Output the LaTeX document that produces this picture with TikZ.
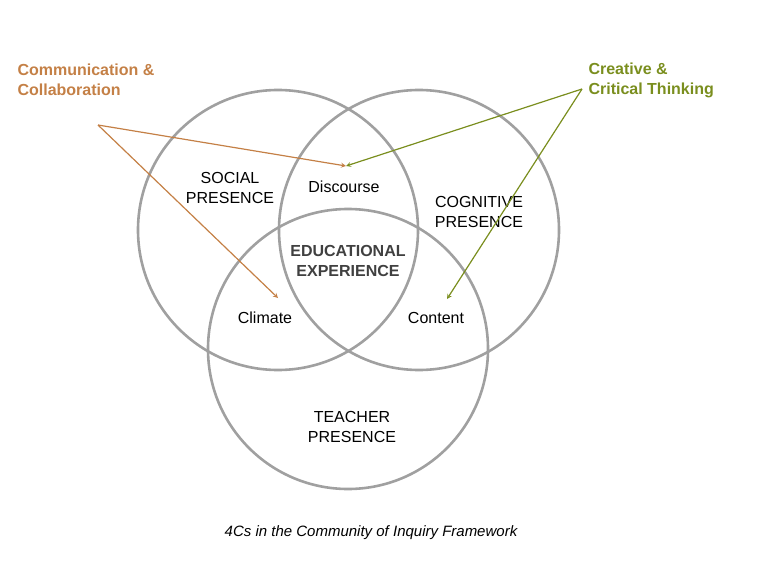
\documentclass[tikz,border=0pt]{standalone}
\usepackage{fontspec}
\setmainfont{Liberation Sans}
\usepackage{tikz}
\definecolor{ring}{RGB}{160,160,160}
\definecolor{commcol}{RGB}{196,128,70}
\definecolor{critcol}{RGB}{122,142,30}

\begin{document}
\begin{tikzpicture}[
  x=1pt,y=-1pt,
  every presence/.style={draw=ring,line width=2.6pt},
  every label/.style={font=\fontsize{16}{20}\selectfont,align=center},
  every skill/.style={font=\fontsize{16}{20}\selectfont\bfseries,align=left,anchor=west},
  comm arrow/.style={draw=commcol,line width=1.2pt,-stealth},
  crit arrow/.style={draw=critcol,line width=1.2pt,-stealth},
]
\useasboundingbox (0,0) rectangle (768,583);
\draw[every presence] (278,230) circle (140);
\draw[every presence] (419,230) circle (140);
\draw[every presence] (348,349) circle (140);

\node[every label] (social) at (230,188) {SOCIAL\\PRESENCE};
\node[every label] (cognitive) at (479,212) {COGNITIVE\\PRESENCE};
\node[every label] (teacher) at (352,427) {TEACHER\\PRESENCE};
\node[every label,font=\fontsize{16}{20}\selectfont\bfseries,text=black!75] (edu) at (348,261) {EDUCATIONAL\\EXPERIENCE};
\node[every label] (discourse) at (344,187) {Discourse};
\node[every label] (climate) at (265,318) {Climate};
\node[every label] (content) at (436,318) {Content};

\node[every skill,text=commcol] (comm) at (14,80) {Communication \&\\Collaboration};
\node[every skill,text=critcol] (crit) at (585,80) {Creative \&\\Critical Thinking};

\coordinate (commtip) at (98,125);
\coordinate (crittip) at (582,89);
\coordinate (discin) at (346,166);
\draw[comm arrow] (commtip) -- (discin);
\draw[comm arrow] (commtip) -- (278,298);
\draw[crit arrow] (crittip) -- (discin);
\draw[crit arrow] (crittip) -- (447,299);

\node[font=\fontsize{15}{18}\selectfont\itshape] (caption) at (371,533) {4Cs in the Community of Inquiry Framework};
\end{tikzpicture}
\end{document}
